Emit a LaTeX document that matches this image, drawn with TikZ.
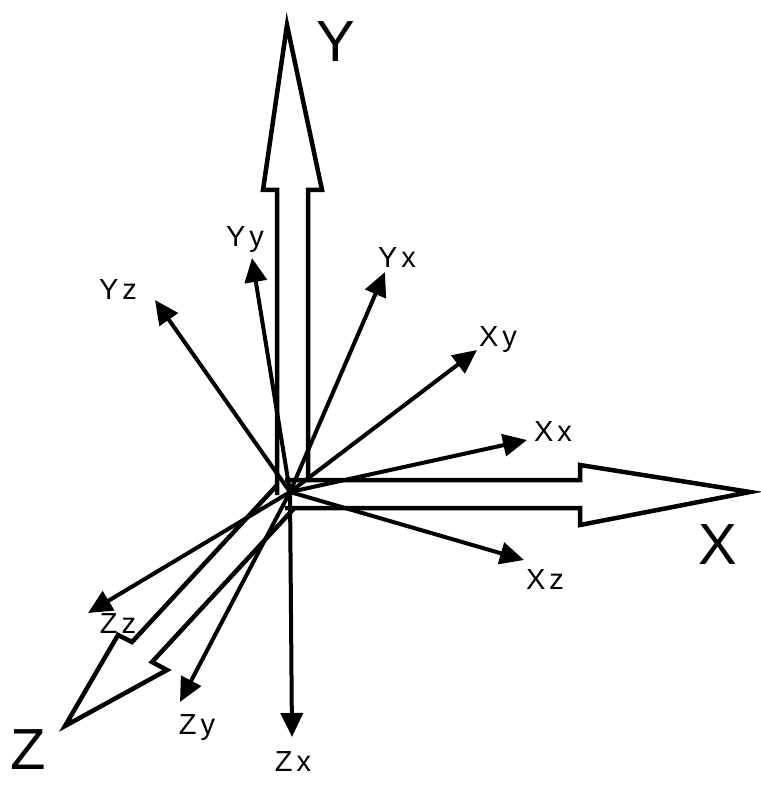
\documentclass[tikz,border=0pt]{standalone}
\usepackage{fontspec}
\setmainfont{Liberation Sans}
\usetikzlibrary{arrows.meta}
\newcommand{\lbl}[2]{#1\kern4pt#2}
\begin{document}
\begin{tikzpicture}[x=1pt,y=-1pt,
  hollow/.style={line width=4.5pt,fill=white,line join=miter},
  thin/.style={line width=4pt,-{Triangle[length=24pt,width=22pt]}},
  big/.style={font=\fontsize{58}{58}\selectfont,inner sep=0},
  small/.style={font=\fontsize{29}{29}\selectfont,inner sep=0}]
\useasboundingbox (0,0) rectangle (760,786);
\coordinate (O) at (290,492);
\draw[hollow] (280,482) -- (132,642) -- (118,635) -- (65,726) -- (167,670) -- (152,662) -- (300,502);
\draw[hollow] (277,495) -- (277,190) -- (263,190) -- (287,25) -- (322,190) -- (308,190) -- (308,495);
\draw[hollow] (285,480) -- (580,480) -- (580,465) -- (750,492) -- (580,525) -- (580,508) -- (285,508);
\coordinate (yz) at (155,300);
\coordinate (yy) at (252,258);
\coordinate (yx) at (385,272);
\coordinate (xy) at (477,350);
\coordinate (xx) at (527,440);
\coordinate (xz) at (524,560);
\coordinate (zz) at (88,613);
\coordinate (zy) at (180,702);
\coordinate (zx) at (292,737);
\foreach \t in {yz,yy,yx,xy,xx,xz,zz,zy,zx} \draw[thin] (O) -- (\t);
\node[big] (lY) at (336,42) {Y};
\node[big] (lX) at (718,545) {X};
\node[big] (lZ) at (28,750) {Z};
\node[small] (lYz) at (118,290) {\lbl{Y}{z}};
\node[small] (lYy) at (245,240) {\lbl{Y}{y}};
\node[small] (lYx) at (397,258) {\lbl{Y}{x}};
\node[small] (lXy) at (498,340) {\lbl{X}{y}};
\node[small] (lXx) at (553,432) {\lbl{X}{x}};
\node[small] (lXz) at (545,580) {\lbl{X}{z}};
\node[small] (lZz) at (118,624) {\lbl{Z}{z}};
\node[small] (lZy) at (197,728) {\lbl{Z}{y}};
\node[small] (lZx) at (293,762) {\lbl{Z}{x}};
\end{tikzpicture}
\end{document}
